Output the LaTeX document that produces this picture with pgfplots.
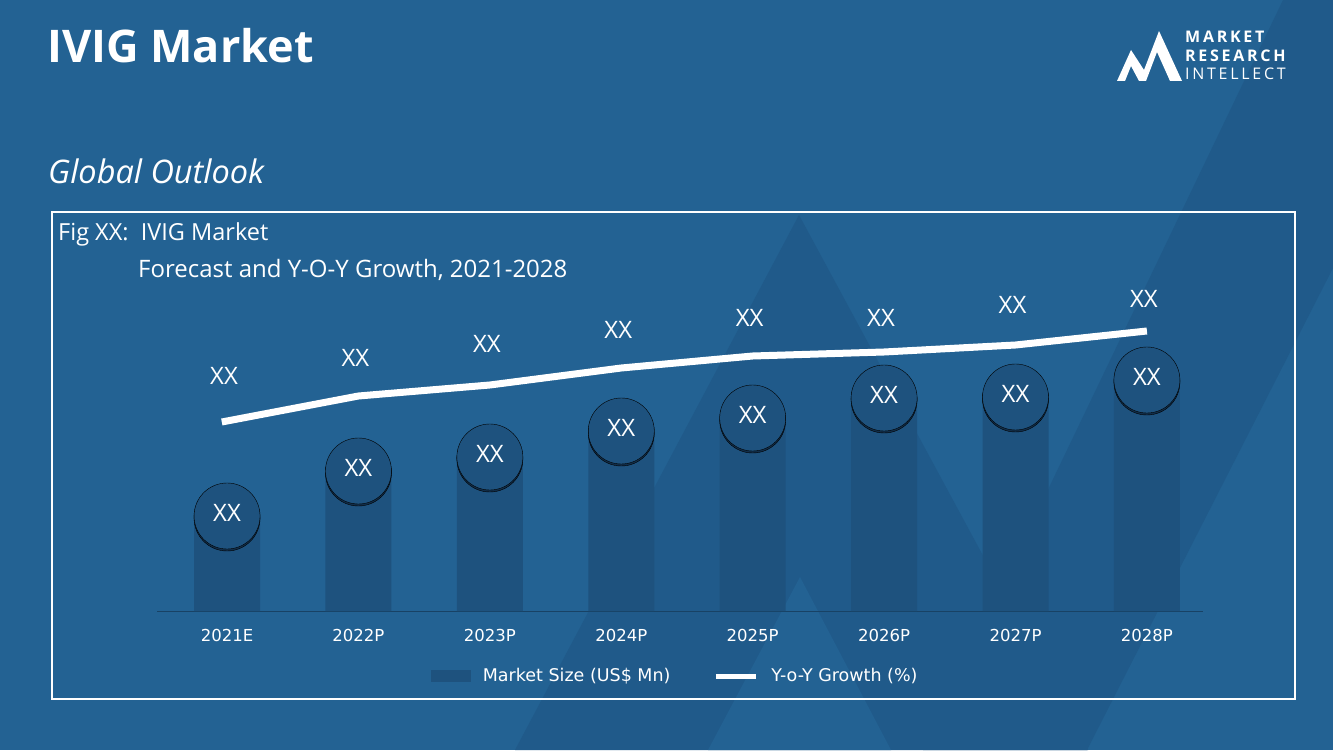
\documentclass[border=0pt]{standalone}
\usepackage{pgfplots}
\pgfplotsset{compat=1.18}
\usepackage{fontspec}
\setmainfont{Open Sans}
\newfontfamily\djsans{DejaVu Sans}
\definecolor{bg}{RGB}{35,98,147}
\definecolor{bgdark}{RGB}{32,90,138}
\definecolor{barc}{RGB}{30,82,126}
\definecolor{shadowc}{RGB}{18,46,74}
\begin{document}
\begin{tikzpicture}[x=1pt,y=1pt]
% background
\fill[bg] (0,0) rectangle (1333,750);
\fill[bgdark] (799,535) -- (515,0) -- (1088,0) -- cycle;
\fill[bg] (800,173) -- (708,0) -- (891,0) -- cycle;
\fill[bgdark] (1283,750) -- (1333,750) -- (1333,482) -- (1087,0) -- (923,0) -- cycle;
% titles
\node[anchor=base west, inner sep=0, text=white, font=\fontsize{45}{54}\selectfont\bfseries] at (47,687) {IVIG Market};
\node[anchor=base west, inner sep=0, text=white, font=\fontsize{32.5}{38}\selectfont\itshape] at (48,566) {Global Outlook};
% logo
\fill[white] (1117,669) -- (1131,700) -- (1144,680) -- (1159,719) -- (1182,669) -- (1170,669) -- (1157,698) -- (1146,669) -- (1139,669) -- (1131,684) -- (1125,669) -- cycle;
\node[anchor=base west, inner sep=0, text=white, font=\fontsize{16}{18}\selectfont\bfseries\addfontfeature{LetterSpace=17}] at (1185,707) {MARKET};
\node[anchor=base west, inner sep=0, text=white, font=\fontsize{16}{18}\selectfont\bfseries\addfontfeature{LetterSpace=17}] at (1185,688) {RESEARCH};
\node[anchor=base west, inner sep=0, text=white, font=\fontsize{16}{18}\selectfont\addfontfeature{LetterSpace=17}] at (1185,670) {INTELLECT};
% frame
\draw[white, line width=2] (52,538) rectangle (1295,51);
\node[anchor=base west, inner sep=0, text=white, font=\fontsize{23.5}{28}\selectfont] at (58,509) {Fig XX:\ \ IVIG Market};
\node[anchor=base west, inner sep=0, text=white, font=\fontsize{24}{28}\selectfont] at (138,472) {Forecast and Y-O-Y Growth, 2021-2028};
\begin{axis}[
  at={(157.4pt,139pt)}, anchor=south west,
  scale only axis, width=1046pt, height=330pt,
  xmin=-0.53, xmax=7.43, ymin=0, ymax=330,
  clip=false,
  axis x line*=bottom,
  axis y line*=left,
  y axis line style={draw=none},
  ytick=\empty,
  x axis line style={draw=barc!80!black, line width=1pt, -},
  xtick={0,...,7},
  xticklabels={2021E,2022P,2023P,2024P,2025P,2026P,2027P,2028P},
  major tick length=0pt,
  xticklabel style={text=white, font=\djsans\fontsize{16.5}{19}\selectfont, yshift=-15pt},
  legend columns=2,
  legend style={at={(0.494,-0.197)}, anchor=center, draw=none, fill=none,
    text=white, font=\djsans\fontsize{17.5}{20}\selectfont,
    nodes={inner xsep=0pt},
    /tikz/every even column/.append style={column sep=43pt}},
]
\addplot[ybar, bar width=66pt, fill=barc, draw=none,
  legend image code/.code={\fill[barc] (0pt,-6pt) rectangle (40pt,6pt); \path (52pt,0pt);}]
  coordinates {(0,95) (1,140) (2,154) (3,180) (4,193) (5,213) (6,214) (7,231)};
\addlegendentry{Market Size (US\$ Mn)}
\addplot[white, line width=7pt, line join=round,
  legend image code/.code={\draw[white, line width=5pt] (0pt,0pt) -- (40pt,0pt); \path (52pt,0pt);}]
  coordinates {(-0.04,189) (1,215) (2,226) (3,243) (4,255) (5,259) (6,266) (7,280)};
\addlegendentry{Y-o-Y Growth (\%)}
% circle shadows
\addplot[forget plot, only marks, mark=*, mark size=33pt,
  mark options={fill=shadowc, draw=none, yshift=-2pt}]
  coordinates {(0,95) (1,140) (2,154) (3,180) (4,193) (5,213) (6,214) (7,231)};
% circles with labels
\addplot[forget plot, only marks, mark=*, mark size=33pt,
  mark options={fill=barc, draw=none},
  nodes near coords={XX},
  every node near coord/.style={anchor=center, yshift=3pt, text=white, font=\fontsize{24}{28}\selectfont}]
  coordinates {(0,95) (1,140) (2,154) (3,180) (4,193) (5,213) (6,214) (7,231)};
% growth labels
\addplot[forget plot, draw=none, mark=none,
  nodes near coords={XX},
  every node near coord/.style={anchor=center, xshift=-3pt, text=white, font=\fontsize{24}{28}\selectfont}]
  coordinates {(0,235) (1,253) (2,267) (3,281) (4,293) (5,293) (6,306) (7,312)};
\end{axis}
\end{tikzpicture}
\end{document}
